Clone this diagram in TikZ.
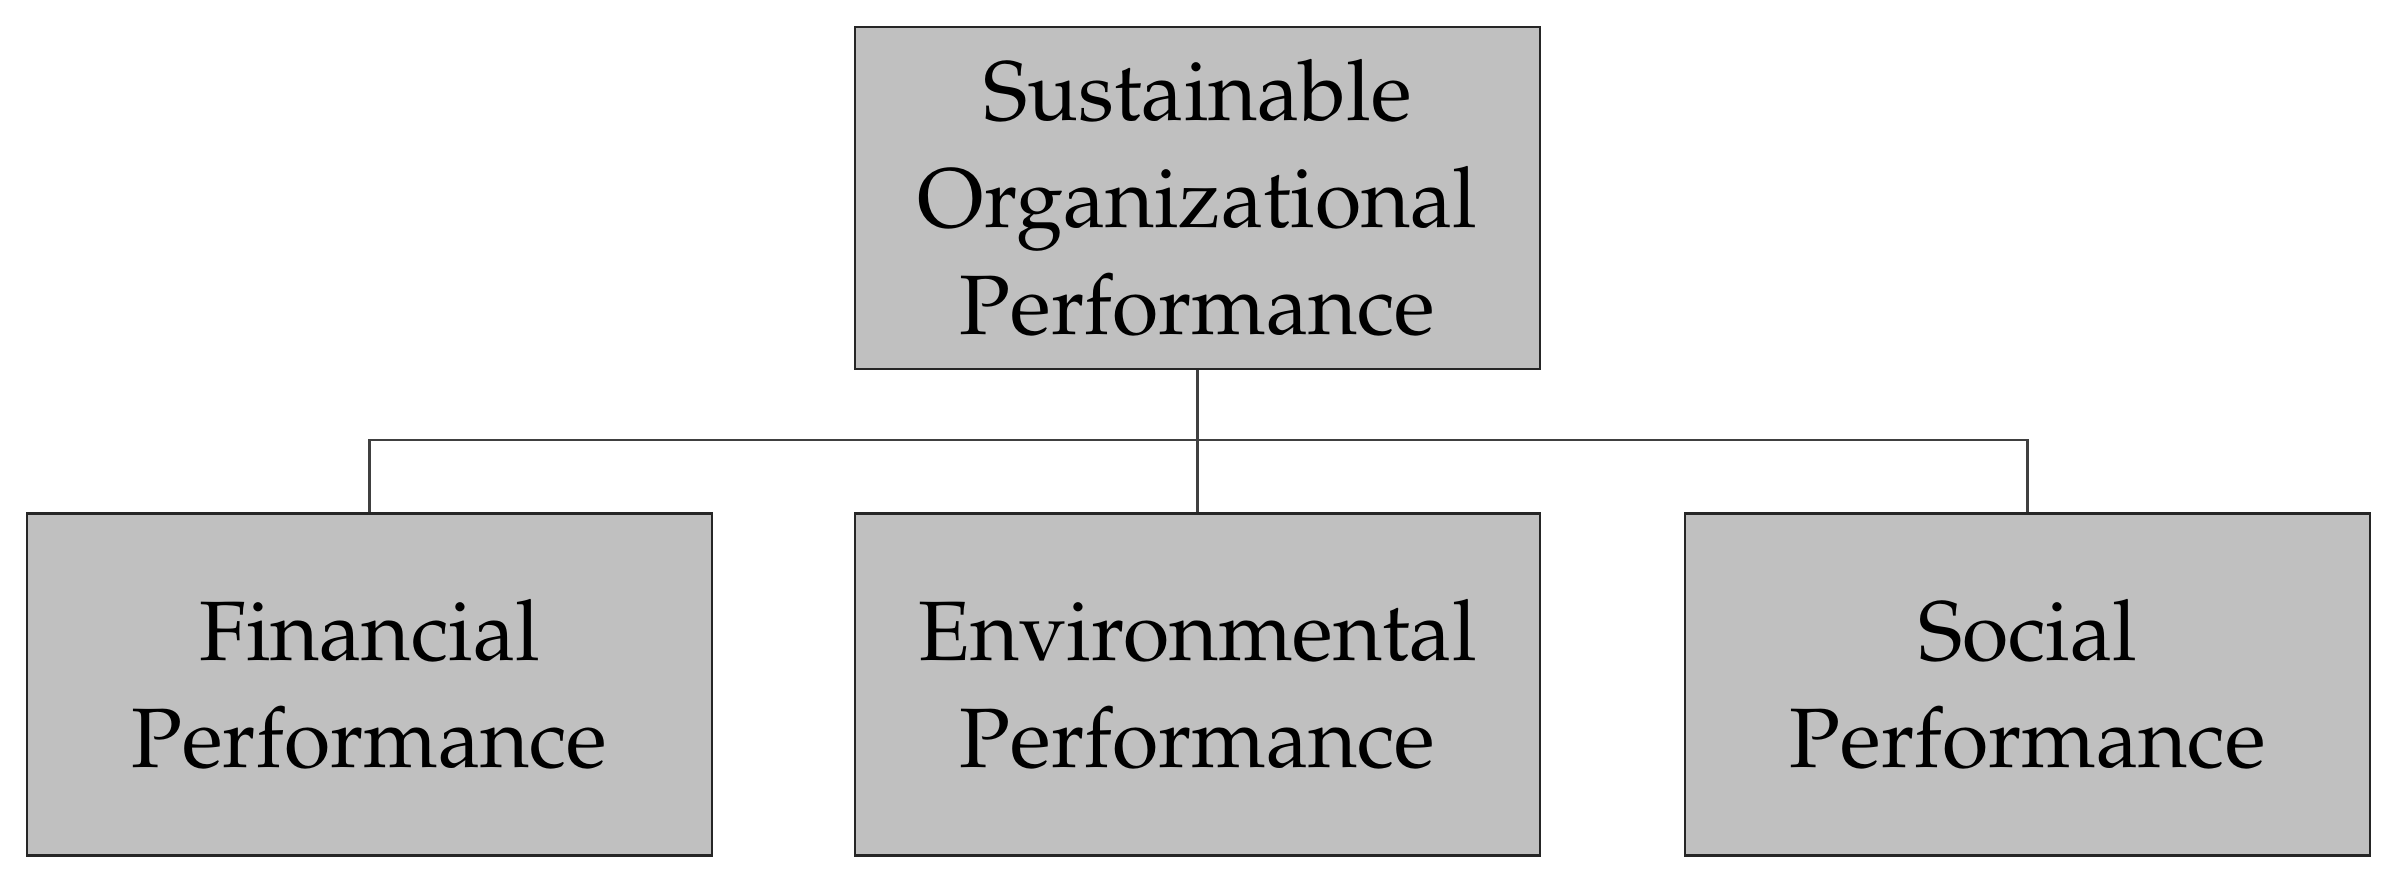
\documentclass[tikz,border=0pt]{standalone}
\usepackage[T1]{fontenc}
\usepackage{mathpazo}
\usepackage{tikz}
\usetikzlibrary{positioning,calc}

\definecolor{boxgray}{RGB}{192,192,192}

\tikzset{
	perfbox/.style={draw=black!85,line width=0.8pt,fill=boxgray,
		minimum width=6.85cm,minimum height=3.42cm,inner sep=0pt,
		font=\fontsize{24}{30.5}\selectfont},
	link/.style={draw=black!75,line width=0.6pt}
}

\begin{document}
\begin{tikzpicture}[scale=1,every text node part/.style={align=center}]
	\useasboundingbox (0,0) rectangle (23.97,-8.85);

		% Dimensions
        \node[perfbox] (SOP) at (11.975,-1.98) {Sustainable\\Organizational\\Performance};
        \node[perfbox] (FP)  at ( 3.695,-6.845) {Financial\\Performance};
        \node[perfbox] (EP)  at (11.975,-6.845) {Environmental\\Performance};
        \node[perfbox] (SP)  at (20.275,-6.845) {Social\\Performance};

        \coordinate (bus) at (11.975,-4.40);

    	\draw [link] (SOP) to (bus);
		\draw [link] (FP)  |- (bus);
		\draw [link] (SP)  |- (bus);
		\draw [link] (bus) to (EP);

	\end{tikzpicture}
\end{document}
